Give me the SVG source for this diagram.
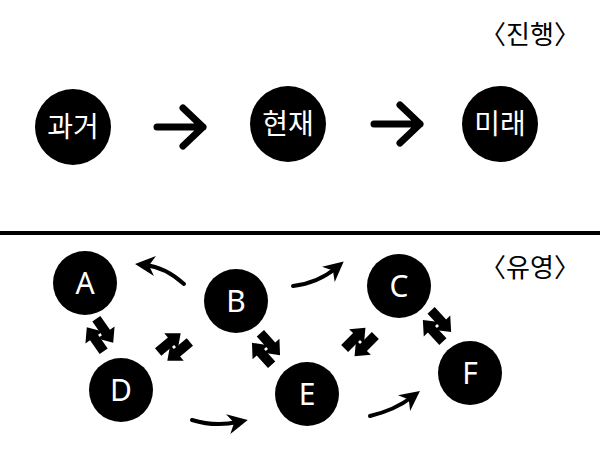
<svg xmlns="http://www.w3.org/2000/svg" width="600" height="459" viewBox="0 0 600 459">
<style>
.n{fill:#000}
.t{fill:#fff;font-family:"Noto Sans","Noto Sans CJK KR",sans-serif;text-anchor:middle}
.k{font-size:28px}
.l{font-size:30px}
.c{fill:none;stroke:#000;stroke-width:4;stroke-linecap:round}
.h{fill:none;stroke:#000;stroke-width:7;stroke-linecap:round;stroke-linejoin:round}
.lab{font-family:"Noto Sans","Noto Sans CJK KR",sans-serif;font-size:26px;fill:#000;text-anchor:middle}
</style>
<defs>
<marker id="ah" viewBox="0 0 10 10" refX="5" refY="5" markerWidth="5" markerHeight="5" orient="auto" markerUnits="strokeWidth"><path d="M0,0 L10,5 L0,10 L3,5 Z" fill="#000"/></marker>
<g id="dbl"><path d="M-11,-8 L1,-8 L1,-12 L10,-4.5 L1,3 L1,-1 L-11,-1 Z" fill="#000"/><path d="M11,8 L-1,8 L-1,12 L-10,4.5 L-1,-3 L-1,1 L11,1 Z" fill="#000"/></g>
</defs>
<text class="lab" x="530" y="44">〈진행〉</text>
<text class="lab" x="530" y="277">〈유영〉</text>
<rect x="0" y="231" width="600" height="4" fill="#000"/>
<g id="past"><circle class="n" cx="73" cy="127" r="38"/><text class="t k" x="73" y="137">과거</text></g>
<g id="present"><circle class="n" cx="288" cy="124" r="38"/><text class="t k" x="288" y="134">현재</text></g>
<g id="future"><circle class="n" cx="500" cy="124" r="38"/><text class="t k" x="500" y="134">미래</text></g>
<g id="nA"><circle class="n" cx="85" cy="283" r="32"/><text class="t l" x="85" y="294">A</text></g>
<g id="nB"><circle class="n" cx="236" cy="301" r="32"/><text class="t l" x="236" y="312">B</text></g>
<g id="nC"><circle class="n" cx="399" cy="286" r="32"/><text class="t l" x="399" y="297">C</text></g>
<g id="nD"><circle class="n" cx="121" cy="390" r="32"/><text class="t l" x="121" y="401">D</text></g>
<g id="nE"><circle class="n" cx="307" cy="394" r="32"/><text class="t l" x="307" y="405">E</text></g>
<g id="nF"><circle class="n" cx="470" cy="373" r="32"/><text class="t l" x="470" y="384">F</text></g>
<g id="connectors">
<path class="h" d="M157,127 L203,127 M183,108 L203,127 L183,146"/>
<path class="h" d="M374,124 L420,124 M400,105 L420,124 L400,143"/>
<path class="c" d="M184,284 Q165,267 145,265" marker-end="url(#ah)"/>
<path class="c" d="M293,286 Q318,283 336,268" marker-end="url(#ah)"/>
<path class="c" d="M192,420 Q215,427 238,422" marker-end="url(#ah)"/>
<path class="c" d="M370,416 Q395,410 412,397" marker-end="url(#ah)"/>
<use href="#dbl" transform="translate(100,335) rotate(235) scale(1.4)"/>
<use href="#dbl" transform="translate(174,347) rotate(-40) scale(1.4)"/>
<use href="#dbl" transform="translate(266,349) rotate(48) scale(1.4)"/>
<use href="#dbl" transform="translate(360,342) rotate(-45) scale(1.4)"/>
<use href="#dbl" transform="translate(437,326) rotate(47) scale(1.4)"/>
</g>
</svg>
